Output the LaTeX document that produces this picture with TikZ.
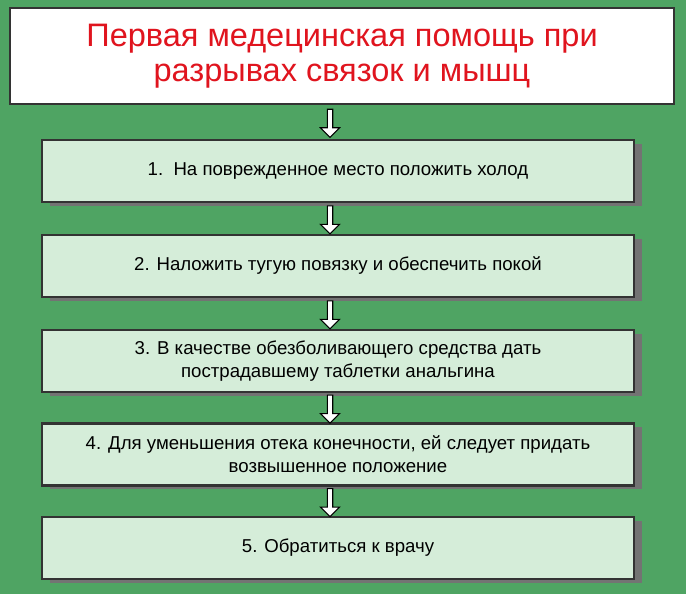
\documentclass[tikz,border=0pt]{standalone}
\usepackage{fontspec}
\setmainfont{Liberation Sans}
\usetikzlibrary{shapes.arrows,calc}
\definecolor{bggreen}{HTML}{4FA463}
\definecolor{boxgreen}{HTML}{D5EDD9}
\definecolor{titlered}{HTML}{E0141E}
\tikzset{
  stepbox/.style={draw=black!80, line width=1.2pt, fill=boxgreen, minimum width=11.84cm, minimum height=1.24cm, align=center, font=\fontsize{10.6}{13}\selectfont},
  boxshadow/.style={fill=black!55, minimum width=11.84cm, minimum height=1.24cm},
  downarrow/.style={single arrow, draw=black, fill=white, line width=0.6pt, shape border rotate=270, minimum height=0.56cm, minimum width=0.38cm, single arrow head extend=0.07cm, inner sep=0.5pt}
}
\begin{document}
\begin{tikzpicture}
\fill[bggreen] (0,0) rectangle (13.72,11.88);
\useasboundingbox (0,0) rectangle (13.72,11.88);
\node[draw=black!80, line width=1pt, fill=white, minimum width=13.28cm, minimum height=1.92cm, align=center, text=titlered, font=\fontsize{18.5}{20}\selectfont] (title) at (6.84,10.76) {Первая медецинская помощь при\\разрывах связок и мышц};
\foreach \n/\y/\t in {s1/8.46/{1.\ \ На поврежденное место положить холод},
  s2/6.56/{2. Наложить тугую повязку и обеспечить покой},
  s3/4.66/{3. В качестве обезболивающего средства дать\\пострадавшему таблетки анальгина},
  s4/2.79/{4. Для уменьшения отека конечности, ей следует придать\\возвышенное положение},
  s5/0.92/{5. Обратиться к врачу}}{
  \node[boxshadow] at (6.84+0.07,\y-0.07) {};
  \node[stepbox] (\n) at (6.76,\y) {\t};
}
\coordinate (ax) at (6.6,0);
\foreach \a/\b in {title/s1,s1/s2,s2/s3,s3/s4,s4/s5}{
  \coordinate (m) at ($(\a.south)!0.5!(\b.north)$);
  \node[downarrow] at (m -| ax) {};
}
\end{tikzpicture}
\end{document}
